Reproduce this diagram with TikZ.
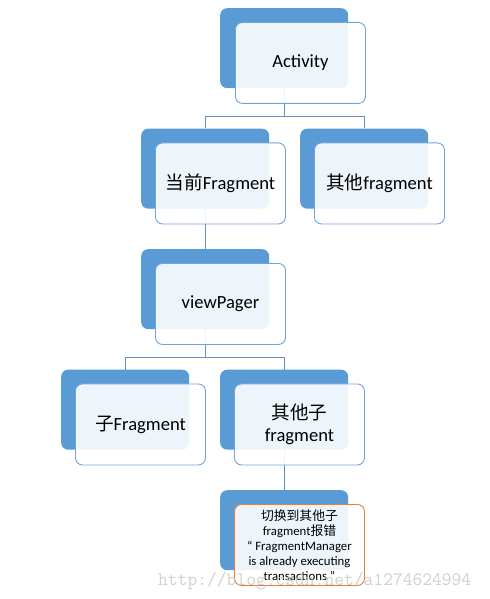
\documentclass[tikz,border=0pt]{standalone}
\usepackage{fontspec}
\setmainfont{Carlito}
\newfontfamily\cjk{Noto Sans CJK SC}
\definecolor{accblue}{RGB}{91,155,213}
\definecolor{edgeblue}{RGB}{112,163,218}
\definecolor{linkblue}{RGB}{98,143,196}
\definecolor{accorange}{RGB}{237,125,49}
\definecolor{wmgray}{RGB}{196,196,196}
\tikzset{
  backbox/.style={rectangle, rounded corners=7bp, fill=accblue, draw=none,
    minimum width=128bp, minimum height=80bp, inner sep=0pt, anchor=north west},
  frontbox/.style={rectangle, rounded corners=7bp, fill=white, fill opacity=0.9,
    text opacity=1, draw=edgeblue, line width=0.9bp, minimum width=130bp,
    minimum height=81bp, inner sep=2bp, anchor=north west, align=center,
    font=\fontsize{18.6bp}{22bp}\selectfont},
  smallbox/.style={frontbox, draw=accorange, font=\fontsize{12.8bp}{15bp}\selectfont},
  link/.style={draw=linkblue, line width=0.9bp},
  wmark/.style={anchor=base west, inner sep=0pt, text=wmgray, text opacity=0.8,
    font=\ttfamily\fontsize{19bp}{19bp}\selectfont}
}
\begin{document}
\begin{tikzpicture}[x=1bp,y=-1bp]
\useasboundingbox (0,0) rectangle (490,599);
% back boxes
\node[backbox] (actB) at (220,8) {};
\node[backbox] (curB) at (141,128.5) {};
\node[backbox] (othB) at (300,128.5) {};
\node[backbox] (vpB)  at (141,249) {};
\node[backbox] (subB) at (61,369.5) {};
\node[backbox] (osB)  at (220,369.5) {};
\node[backbox] (errB) at (220,490) {};
% bus coordinates
\coordinate (bus1) at (0,116);
\coordinate (bus3) at (0,357);
% connectors
\draw[link] (actB.south) -- (actB.south |- bus1) -| (curB.north);
\draw[link] (actB.south |- bus1) -| (othB.north);
\draw[link] (curB.south) -- (vpB.north);
\draw[link] (vpB.south) -- (vpB.south |- bus3) -| (subB.north);
\draw[link] (vpB.south |- bus3) -| (osB.north);
\draw[link] (osB.south) -- (errB.north);
% front boxes
\node[frontbox] (actF) at (235,22) {Activity};
\node[frontbox] (curF) at (155,142.5) {{\cjk 当前}Fragment};
\node[frontbox] (othF) at (314,142.5) {{\cjk 其他}fragment};
\node[frontbox] (vpF)  at (155,263) {viewPager};
\node[frontbox] (subF) at (75,383.5) {{\cjk 子}Fragment};
\node[frontbox] (osF)  at (234,383.5) {{\cjk 其他子}\\fragment};
\node[smallbox] (errF) at (234,504) {{\cjk 切换到其他子}\\fragment{\cjk 报错}\\“ FragmentManager\\is already executing\\transactions ”};
% watermark
\node[wmark] (wm) at (158,585) {http://blog.csdn.net/a1274624994};
\end{tikzpicture}
\end{document}
